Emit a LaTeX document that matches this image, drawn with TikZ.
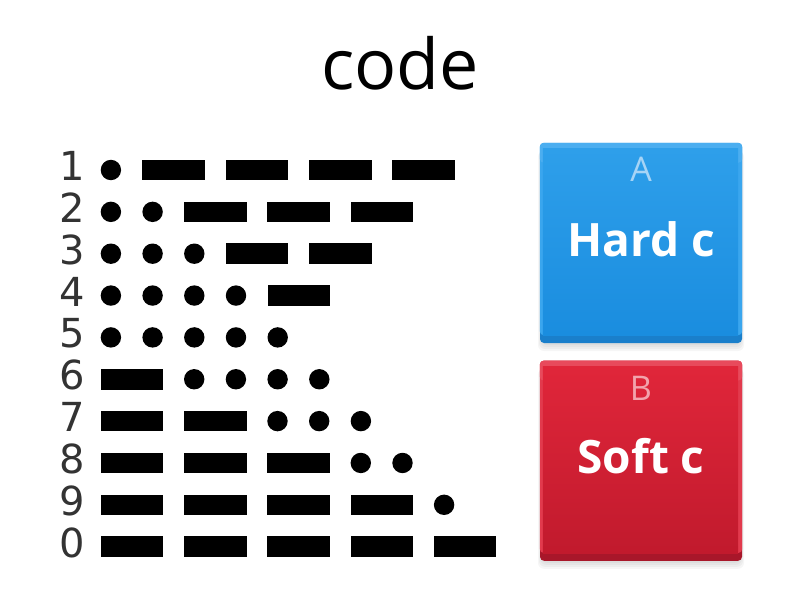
\documentclass[tikz,border=0pt]{standalone}
\usepackage{fontspec}
\setmainfont{Open Sans}
\newfontfamily\digitfont{DejaVu Sans}
\usetikzlibrary{positioning}

\definecolor{blueface}{HTML}{2E9FEA}
\definecolor{bluefacelow}{HTML}{1A8DDF}
\definecolor{blueedge}{HTML}{1A7FCB}
\definecolor{blueside}{HTML}{3AA6EE}
\definecolor{bluelight}{HTML}{4BAEF0}
\definecolor{blueletter}{HTML}{A6D4F6}
\definecolor{redface}{HTML}{E0263A}
\definecolor{redfacelow}{HTML}{C11A2D}
\definecolor{rededge}{HTML}{A8172A}
\definecolor{redside}{HTML}{E23A4D}
\definecolor{redlight}{HTML}{E84A5C}
\definecolor{redletter}{HTML}{F2A3AC}

\begin{document}
\begin{tikzpicture}[x=1pt,y=-1pt,
  digit/.style={font=\digitfont\fontsize{40}{40}\selectfont,text=black!80,anchor=base,inner sep=0pt},
  btnbase/.style={rounded corners=4pt,minimum width=202pt,minimum height=200pt,inner sep=0pt},
  btnletter/.style={font=\fontsize{34}{34}\selectfont,anchor=base,inner sep=0pt},
  btntext/.style={font=\bfseries\fontsize{46}{46}\selectfont,text=white,anchor=base,inner sep=0pt}]
\useasboundingbox (0,0) rectangle (800,600);
\node[font=\fontsize{70}{70}\selectfont,anchor=base,inner sep=0pt] (title) at (400,89.3) {code};
% morse rows: 0 = dot, 1 = dash
\foreach \d/\seq [count=\r from 0] in {1/{0,1,1,1,1},2/{0,0,1,1,1},3/{0,0,0,1,1},4/{0,0,0,0,1},5/{0,0,0,0,0},
  6/{1,0,0,0,0},7/{1,1,0,0,0},8/{1,1,1,0,0},9/{1,1,1,1,0},0/{1,1,1,1,1}} {
  \pgfmathsetmacro\ry{170+41.85*\r}
  \node[digit] (d\d) at (72.7,\ry+10.5) {\d};
  \foreach \s [remember=\nx as \px (initially 100.7)] in \seq {
    \ifnum\s=1
      \fill (\px,\ry-10.3) rectangle (\px+62.5,\ry+10.3);
      \pgfmathsetmacro\nx{\px+83.3}
    \else
      \fill (\px+10.2,\ry) circle (10.2pt);
      \pgfmathsetmacro\nx{\px+41.7}
    \fi
  }
}
% answer buttons
\foreach \b/\col/\y in {hard/blue/243,soft/red/460.8} {
  \foreach \k in {1,...,4}
    \fill[black,opacity=0.035,rounded corners=6pt] (540-\k+2,\y-100+2*\k) rectangle (742+\k-2,\y+100+2*\k);
  \node[btnbase,fill=\col edge] (\b) at (641,\y) {};
  \fill[\col side,rounded corners=4pt] (\b.north west) rectangle ([shift={(0,-8)}]\b.south east);
  \fill[\col light,rounded corners=4pt] (\b.north west) rectangle ([shift={(0,20)}]\b.north east);
  \shade[top color=\col face,bottom color=\col facelow] ([shift={(3,6)}]\b.north west) rectangle ([shift={(-4,-8)}]\b.south east);
}
\node[btnletter,text=blueletter] (la) at ([shift={(0,38.4)}]hard.north) {A};
\node[btntext] (ta) at ([shift={(0,113.4)}]hard.north) {Hard c};
\node[btnletter,text=redletter] (lb) at ([shift={(0,39.5)}]soft.north) {B};
\node[btntext] (tb) at ([shift={(0,113.3)}]soft.north) {Soft c};
\end{tikzpicture}
\end{document}
